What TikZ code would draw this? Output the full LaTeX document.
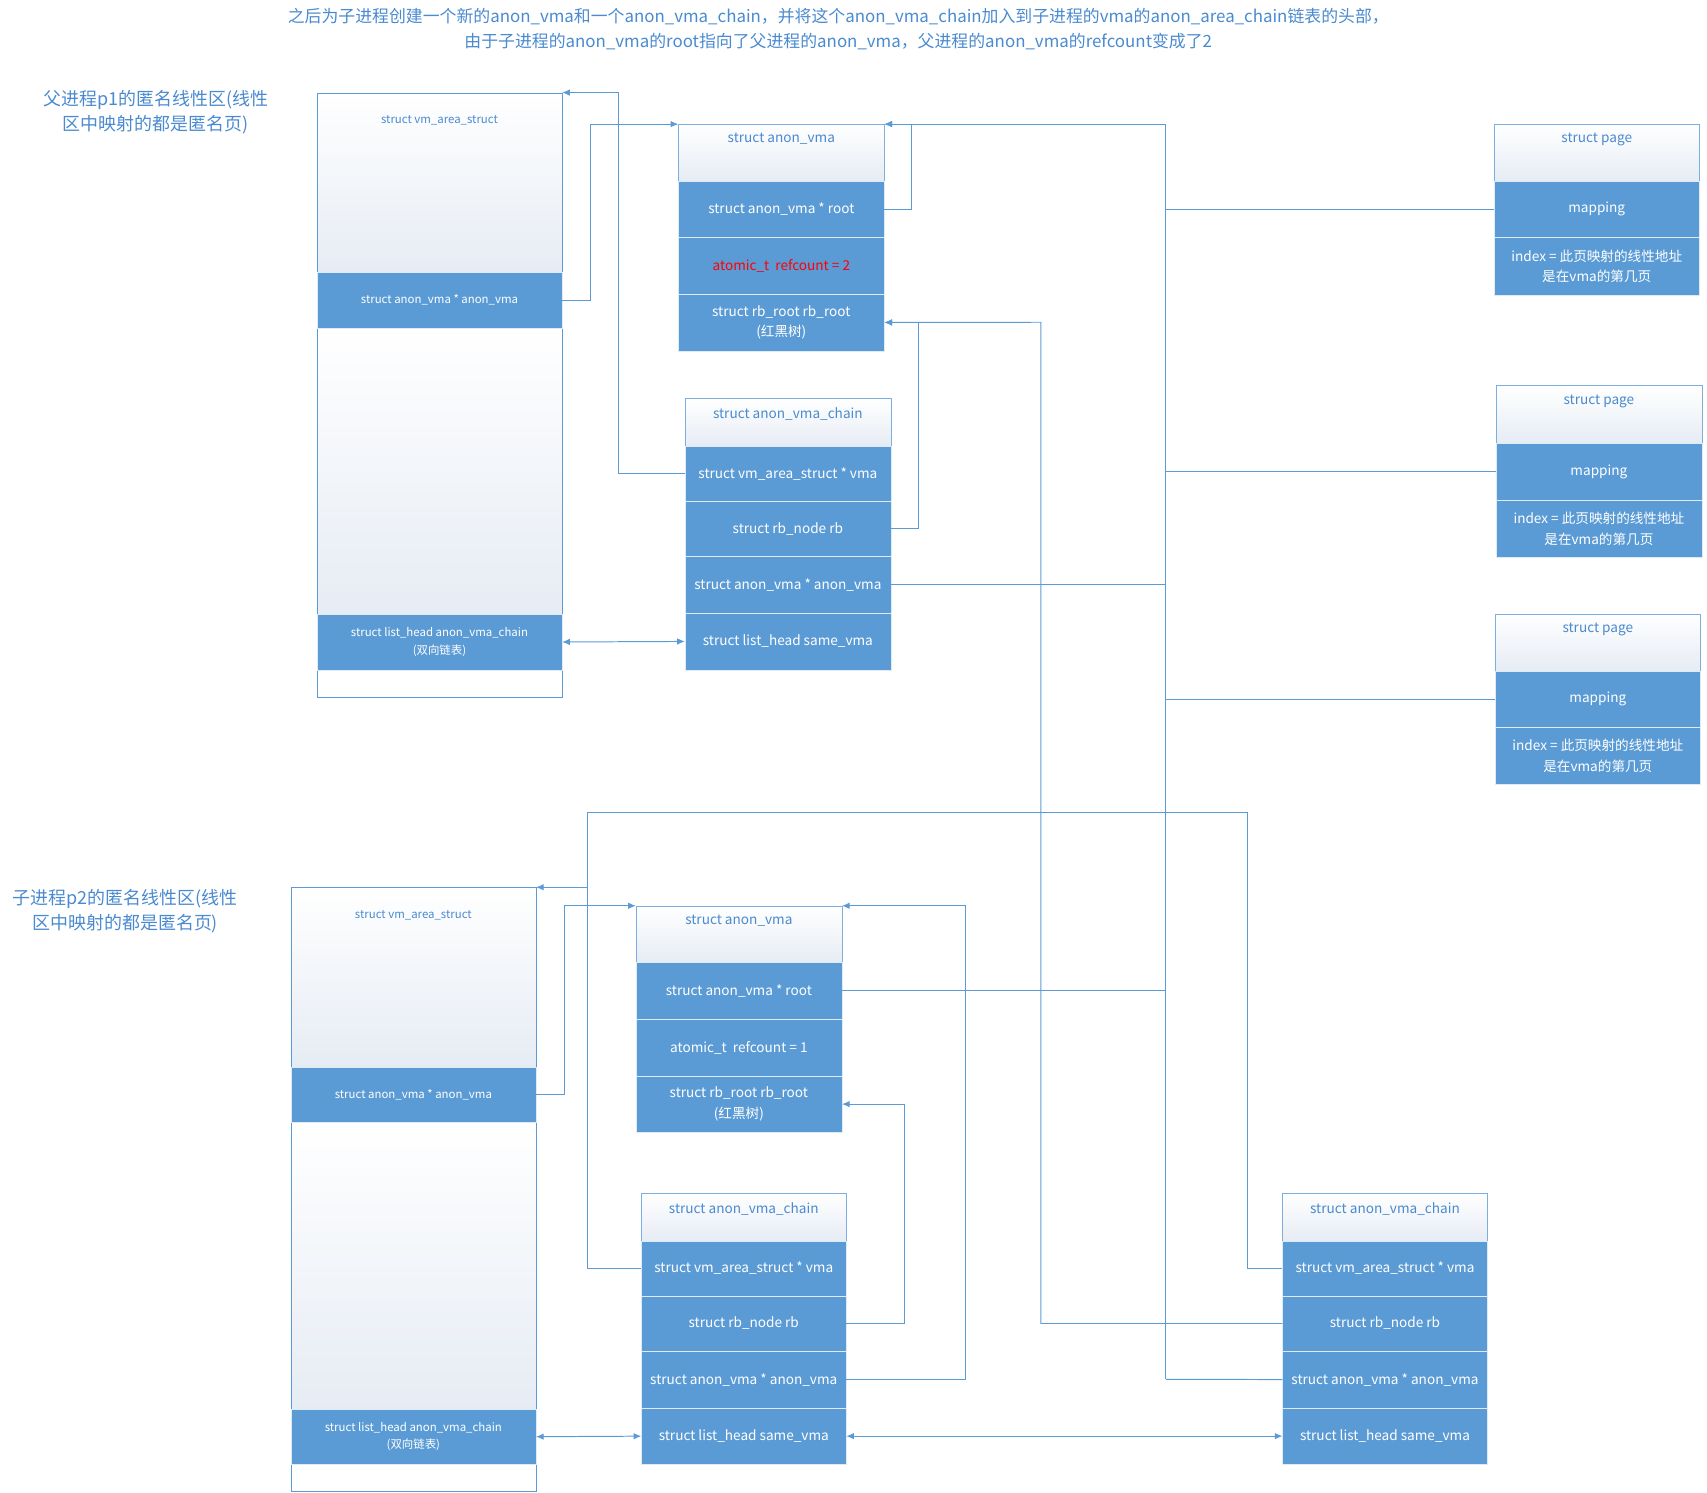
\documentclass[tikz,border=0pt]{standalone}
\usepackage{fontspec}
\setmainfont{Noto Sans CJK SC}
\usetikzlibrary{arrows.meta}
\definecolor{bl}{HTML}{5B9BD5}
\definecolor{tb}{HTML}{4A8AD0}
\definecolor{hb}{HTML}{E6ECF4}
\tikzset{
 fld/.style={rectangle,fill=bl,draw=white!80!bl,text=white,inner sep=0pt,anchor=north west,align=center,font=\fontsize{12.5}{19}\selectfont},
 sfld/.style={fld,font=\fontsize{10.5}{16}\selectfont},
 hdr/.style={rectangle,top color=hb,bottom color=white,shading angle=180,draw=bl!80,inner sep=0pt,anchor=north west},
 htxt/.style={text=tb,font=\fontsize{12.5}{14}\selectfont,anchor=north},
 con/.style={draw=bl,line width=0.9pt},
 arr/.style={con,-{Latex[length=7pt,width=6pt]}},
 darr/.style={con,{Latex[length=7pt,width=6pt]}-{Latex[length=7pt,width=6pt]}},
}
\newcommand\fl[7][fld]{\node[#1,minimum width=#5pt,minimum height=#6pt] (#2) at (#3,#4) {#7};}
\newcommand\hd[6]{\node[hdr,minimum width=#4pt,minimum height=#5pt] (#1) at (#2,#3) {};\node[htxt] at ([yshift=-5pt]#1.north) {#6};}
\begin{document}
\begin{tikzpicture}[x=1pt,y=-1pt]
\useasboundingbox (0,0) rectangle (1568,1371);
\node[text=tb,font=\fontsize{15.5}{23}\selectfont,align=center] (title) at (770,27) {之后为子进程创建一个新的anon\_vma和一个anon\_vma\_chain，并将这个anon\_vma\_chain加入到子进程的vma的anon\_area\_chain链表的头部，\\由于子进程的anon\_vma的root指向了父进程的anon\_vma，父进程的anon\_vma的refcount变成了2};
\node[text=tb,font=\fontsize{16.5}{23}\selectfont,align=center] (lab1) at (143,103) {父进程p1的匿名线性区(线性\\区中映射的都是匿名页)};
\node[text=tb,font=\fontsize{16.5}{23}\selectfont,align=center] (lab2) at (115,837) {子进程p2的匿名线性区(线性\\区中映射的都是匿名页)};
% VMA1
\node[hdr,minimum width=225pt,minimum height=165pt,draw=none] (v1h) at (291,85) {};
\node[htxt,font=\fontsize{10.5}{12}\selectfont] at ([yshift=-18pt]v1h.north) {struct vm\_area\_struct};
\node[hdr,minimum width=225pt,minimum height=263pt,draw=none] (v1g) at (291,301) {};
\node[draw=bl,minimum width=225pt,minimum height=555pt,inner sep=0pt,anchor=north west] (v1) at (291,85) {};
\fl[sfld]{v1a}{291}{250}{225}{51}{struct anon\_vma * anon\_vma}
\fl[sfld]{v1l}{291}{564}{225}{51}{struct list\_head anon\_vma\_chain\\(双向链表)}
% VMA2
\node[hdr,minimum width=225pt,minimum height=165pt,draw=none] (v2h) at (267,815) {};
\node[htxt,font=\fontsize{10.5}{12}\selectfont] at ([yshift=-18pt]v2h.north) {struct vm\_area\_struct};
\node[hdr,minimum width=225pt,minimum height=263pt,draw=none] (v2g) at (267,1031) {};
\node[draw=bl,minimum width=225pt,minimum height=555pt,inner sep=0pt,anchor=north west] (v2) at (267,815) {};
\fl[sfld]{v2a}{267}{980}{225}{51}{struct anon\_vma * anon\_vma}
\fl[sfld]{v2l}{267}{1294}{225}{51}{struct list\_head anon\_vma\_chain\\(双向链表)}
% AV1
\hd{a1h}{623}{114}{189}{52}{struct anon\_vma}
\fl{a1r}{623}{166}{189}{52}{struct anon\_vma * root}
\fl{a1c}{623}{218}{189}{52}{\textcolor{red}{atomic\_t\ \ refcount = 2}}
\fl{a1b}{623}{270}{189}{52}{struct rb\_root rb\_root\\(红黑树)}
% AVC1
\hd{c1h}{629}{366}{189}{44}{struct anon\_vma\_chain}
\fl{c1v}{629}{410}{189}{50}{struct vm\_area\_struct * vma}
\fl{c1r}{629}{460}{189}{51}{struct rb\_node rb}
\fl{c1a}{629}{511}{189}{52}{struct anon\_vma * anon\_vma}
\fl{c1s}{629}{563}{189}{52}{struct list\_head same\_vma}
% pages
\hd{p1h}{1372}{114}{189}{52}{struct page}
\fl{p1m}{1372}{166}{189}{52}{mapping}
\fl{p1i}{1372}{218}{189}{53}{index = 此页映射的线性地址\\是在vma的第几页}
\hd{p2h}{1374}{354}{189}{53}{struct page}
\fl{p2m}{1374}{407}{189}{52}{mapping}
\fl{p2i}{1374}{459}{189}{53}{index = 此页映射的线性地址\\是在vma的第几页}
\hd{p3h}{1373}{564}{189}{52}{struct page}
\fl{p3m}{1373}{616}{189}{52}{mapping}
\fl{p3i}{1373}{668}{189}{52}{index = 此页映射的线性地址\\是在vma的第几页}
% AV2
\hd{a2h}{584}{832}{189}{52}{struct anon\_vma}
\fl{a2r}{584}{884}{189}{52}{struct anon\_vma * root}
\fl{a2c}{584}{936}{189}{52}{atomic\_t\ \ refcount = 1}
\fl{a2b}{584}{988}{189}{52}{struct rb\_root rb\_root\\(红黑树)}
% AVC2
\hd{c2h}{589}{1096}{188}{44}{struct anon\_vma\_chain}
\fl{c2v}{589}{1140}{188}{50}{struct vm\_area\_struct * vma}
\fl{c2r}{589}{1190}{188}{51}{struct rb\_node rb}
\fl{c2a}{589}{1241}{188}{52}{struct anon\_vma * anon\_vma}
\fl{c2s}{589}{1293}{188}{52}{struct list\_head same\_vma}
% AVC3
\hd{c3h}{1178}{1096}{188}{44}{struct anon\_vma\_chain}
\fl{c3v}{1178}{1140}{188}{50}{struct vm\_area\_struct * vma}
\fl{c3r}{1178}{1190}{188}{51}{struct rb\_node rb}
\fl{c3a}{1178}{1241}{188}{52}{struct anon\_vma * anon\_vma}
\fl{c3s}{1178}{1293}{188}{52}{struct list\_head same\_vma}
% connectors
\coordinate (sp) at (1071,114);
\coordinate (sb) at (1071,1267);
\draw[con] (sp) -- (sb);
\draw[arr] (v1a.east) -- ++(26,0) |- (a1h.north west);
\draw[arr] (c1v.west) -- ++(-61,0) |- (v1.north east);
\draw[arr] (a1r.east) -- ++(25,0) |- (a1h.north east);
\draw[arr] (c1r.east) -- ++(25,0) |- (a1b.east);
\draw[arr] (c1a.east) -| (sp) -- (a1h.north east);
\draw[con] (p1m.west) -- (p1m.west -| sp);
\draw[con] (p2m.west) -- (p2m.west -| sp);
\draw[con] (p3m.west) -- (p3m.west -| sp);
\draw[darr] (v1l.east) -- (c1s.west);
\draw[arr] (c3v.west) -- ++(-32,0) |- (540,746) |- (v2.north east);
\draw[con] (c2v.west) -| (540,815);
\draw[arr] (v2a.east) -- ++(26,0) |- (a2h.north west);
\draw[con] (a2r.east) -- (a2r.east -| sp);
\draw[arr] (c2r.east) -- ++(53,0) |- (a2b.east);
\draw[arr] (c2a.east) -- ++(109,0) |- (a2h.north east);
\draw[arr] (c3r.west) -| (956,296) -- (a1b.east);
\draw[con] (c3a.west) -- (sb);
\draw[darr] (c2s.east) -- (c3s.west);
\draw[darr] (v2l.east) -- (c2s.west);
\end{tikzpicture}
\end{document}
